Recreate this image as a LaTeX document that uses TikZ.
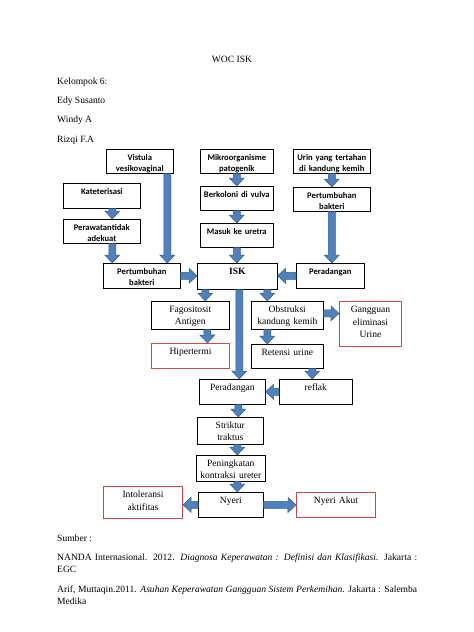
\documentclass[tikz,border=0pt]{standalone}
\usepackage{fontspec}
\setmainfont{Liberation Serif}
\newfontfamily\calibri{Carlito}
\usetikzlibrary{calc}
\definecolor{arrowfill}{RGB}{79,129,189}
\definecolor{arrowedge}{RGB}{56,93,138}
\definecolor{nandared}{RGB}{192,80,77}
\hyphenpenalty=10000
\exhyphenpenalty=10000

\begin{document}
\begin{tikzpicture}[x=1pt,y=-1pt,font=\fontsize{9.56}{12}\selectfont]
                \tikzset{box/.style 2 args={draw,rectangle,inner sep=0pt,anchor=north west,align=center,line width=0.6pt,
                                text width=#1,text height=11pt,text depth=#2-11pt}}
                \tikzset{blockarrow/.style={draw=arrowedge,fill=arrowfill,line width=0.5pt,
                                to path={let \p1=(\tikztostart), \p2=(\tikztotarget),
                                        \n1={atan2(\y2-\y1,\x2-\x1)}, \n2={veclen(\x2-\x1,\y2-\y1)} in
                                        ([shift={(\p1)},rotate=\n1]0pt,3.5pt) -- ([shift={(\p1)},rotate=\n1]\n2-8pt,3.5pt)
                                        -- ([shift={(\p1)},rotate=\n1]\n2-8pt,7.5pt) -- (\p2)
                                        -- ([shift={(\p1)},rotate=\n1]\n2-8pt,-7.5pt) -- ([shift={(\p1)},rotate=\n1]\n2-8pt,-3.5pt)
                                        -- ([shift={(\p1)},rotate=\n1]0pt,-3.5pt) -- cycle}}}
                \tikzstyle{sans}=[font=\calibri\bfseries\fontsize{8.6}{11.5}\selectfont]
                \tikzstyle{serif}=[font=\fontsize{9.56}{12.5}\selectfont]
                \tikzstyle{diagnosis}=[draw=nandared,line width=1pt]
                \tikzstyle{plain}=[inner sep=0pt,anchor=base west]

                \useasboundingbox (0,0) rectangle (474,632);

                % header
                \node[inner sep=0pt,anchor=base] (title) at (232,62.3) {WOC ISK};
                \node[plain] (kelompok) at (57,84) {Kelompok 6:};
                \node[plain] (edy) at (57,103.3) {Edy Susanto};
                \node[plain] (windy) at (57,122.7) {Windy A};
                \node[plain] (rizqi) at (57,142) {Rizqi F.A};

                % boxes
                \node[box={67}{24},sans] (vistula) at (106,149) {Vistula\\vesikovaginal};
                \node[box={73}{24},sans] (mikro) at (200,149) {Mikroorganisme\\patogenik};
                \node[box={77}{24},sans] (urin) at (293,149) {Urin yang tertahan\\di kandung kemih};
                \node[box={77}{25},sans] (kateter) at (63,183) {Kateterisasi};
                \node[box={73}{24},sans] (koloni) at (200,186) {Berkoloni di vulva};
                \node[box={77}{24},sans] (bakteri2) at (293,187) {Pertumbuhan\\bakteri};
                \node[box={77}{24},sans] (rawat) at (63,219) {Perawatantidak\\adekuat};
                \node[box={73}{24},sans] (uretra) at (200,223) {Masuk ke uretra};
                \node[box={77}{25},sans] (bakteri1) at (103,263) {Pertumbuhan\\bakteri};
                \node[box={80}{26},font=\fontsize{9.56}{12.5}\selectfont\bfseries] (isk) at (197,263) {ISK};
                \node[box={68}{25},sans] (radang1) at (296,263) {Peradangan};
                \node[box={78}{28},serif] (fago) at (151,301) {Fagositosit\\Antigen};
                \node[box={72}{28},serif] (obstruksi) at (251,301) {Obstruksi\\kandung kemih};
                \node[box={62}{45},serif,diagnosis] (eliminasi) at (339,301) {Gangguan\\eliminasi\\Urine};
                \node[box={78}{25},serif,diagnosis] (hipertermi) at (151,343) {Hipertermi};
                \node[box={72}{24},serif] (retensi) at (251,344) {Retensi urine};
                \node[box={66}{25},serif] (radang2) at (199,379) {Peradangan};
                \node[box={73}{25},serif] (reflak) at (279,379) {reflak};
                \node[box={66}{27},serif] (striktur) at (197,417) {Striktur\\traktus};
                \node[box={69}{26},serif] (kontraksi) at (196,455) {Peningkatan\\kontraksi ureter};
                \node[box={65}{25},serif] (nyeri) at (198,492) {Nyeri};
                \node[box={79}{32},serif,diagnosis] (intoleransi) at (103,486) {Intoleransi\\aktifitas};
                \node[box={79}{25},serif,diagnosis] (akut) at (296,492) {Nyeri Akut};

                % arrows
                \draw[blockarrow] (mikro.south) to (koloni.north);
                \draw[blockarrow] (koloni.south) to (uretra.north);
                \draw[blockarrow] (uretra.south) to (uretra.south |- isk.north);
                \draw[blockarrow] ([xshift=27.5pt]vistula.south) to ([xshift=25.5pt]bakteri1.north);
                \draw[blockarrow] ([xshift=10.5pt]kateter.south) to ([xshift=10.5pt]rawat.north);
                \draw[blockarrow] ([xshift=10.5pt]rawat.south) to ([xshift=-29.5pt]bakteri1.north);
                \draw[blockarrow] (bakteri1.east) to (bakteri1.east -| isk.west);
                \draw[blockarrow] (urin.south) to (bakteri2.north);
                \draw[blockarrow] (bakteri2.south) to (bakteri2.south |- radang1.north);
                \draw[blockarrow] (radang1.west) to (radang1.west -| isk.east);
                \draw[blockarrow] ([xshift=-32pt]isk.south) to ([xshift=15pt]fago.north);
                \draw[blockarrow] ([xshift=2pt]isk.south) to ([xshift=7pt]radang2.north);
                \draw[blockarrow] ([xshift=30pt]isk.south) to ([xshift=-20pt]obstruksi.north);
                \draw[blockarrow] ([xshift=17pt]fago.south) to ([xshift=17pt]hipertermi.north);
                \draw[blockarrow] ([yshift=2pt]obstruksi.east) to ([yshift=10.5pt]eliminasi.west);
                \draw[blockarrow] ([xshift=-20pt]obstruksi.south) to ([xshift=-20pt]retensi.north);
                \draw[blockarrow] ([xshift=25pt]retensi.south) to ([xshift=-3.5pt]reflak.north);
                \draw[blockarrow] (reflak.west) to (radang2.east);
                \draw[blockarrow] ([xshift=6pt]radang2.south) to ([xshift=8pt]striktur.north);
                \draw[blockarrow] ([xshift=7pt]striktur.south) to ([xshift=6.5pt]kontraksi.north);
                \draw[blockarrow] ([xshift=6.5pt]kontraksi.south) to ([xshift=6.5pt]nyeri.north);
                \draw[blockarrow] (nyeri.west) to (nyeri.west -| intoleransi.east);
                \draw[blockarrow] (nyeri.east) to (akut.west);

                % sources
                \node[plain] (sumber) at (57,541) {Sumber :};
                \node[plain,text width=360pt,align=justify] (nanda) at (57,560.7)
                        {NANDA Internasional. 2012. \textit{Diagnosa Keperawatan : Definisi dan Klasifikasi}. Jakarta :\linebreak EGC};
                \node[plain,text width=360pt,align=justify] (arif) at (57,592.3)
                        {Arif, Muttaqin.2011. \textit{Asuhan Keperawatan Gangguan Sistem Perkemihan}. Jakarta : Salemba\linebreak Medika};
\end{tikzpicture}
\end{document}
